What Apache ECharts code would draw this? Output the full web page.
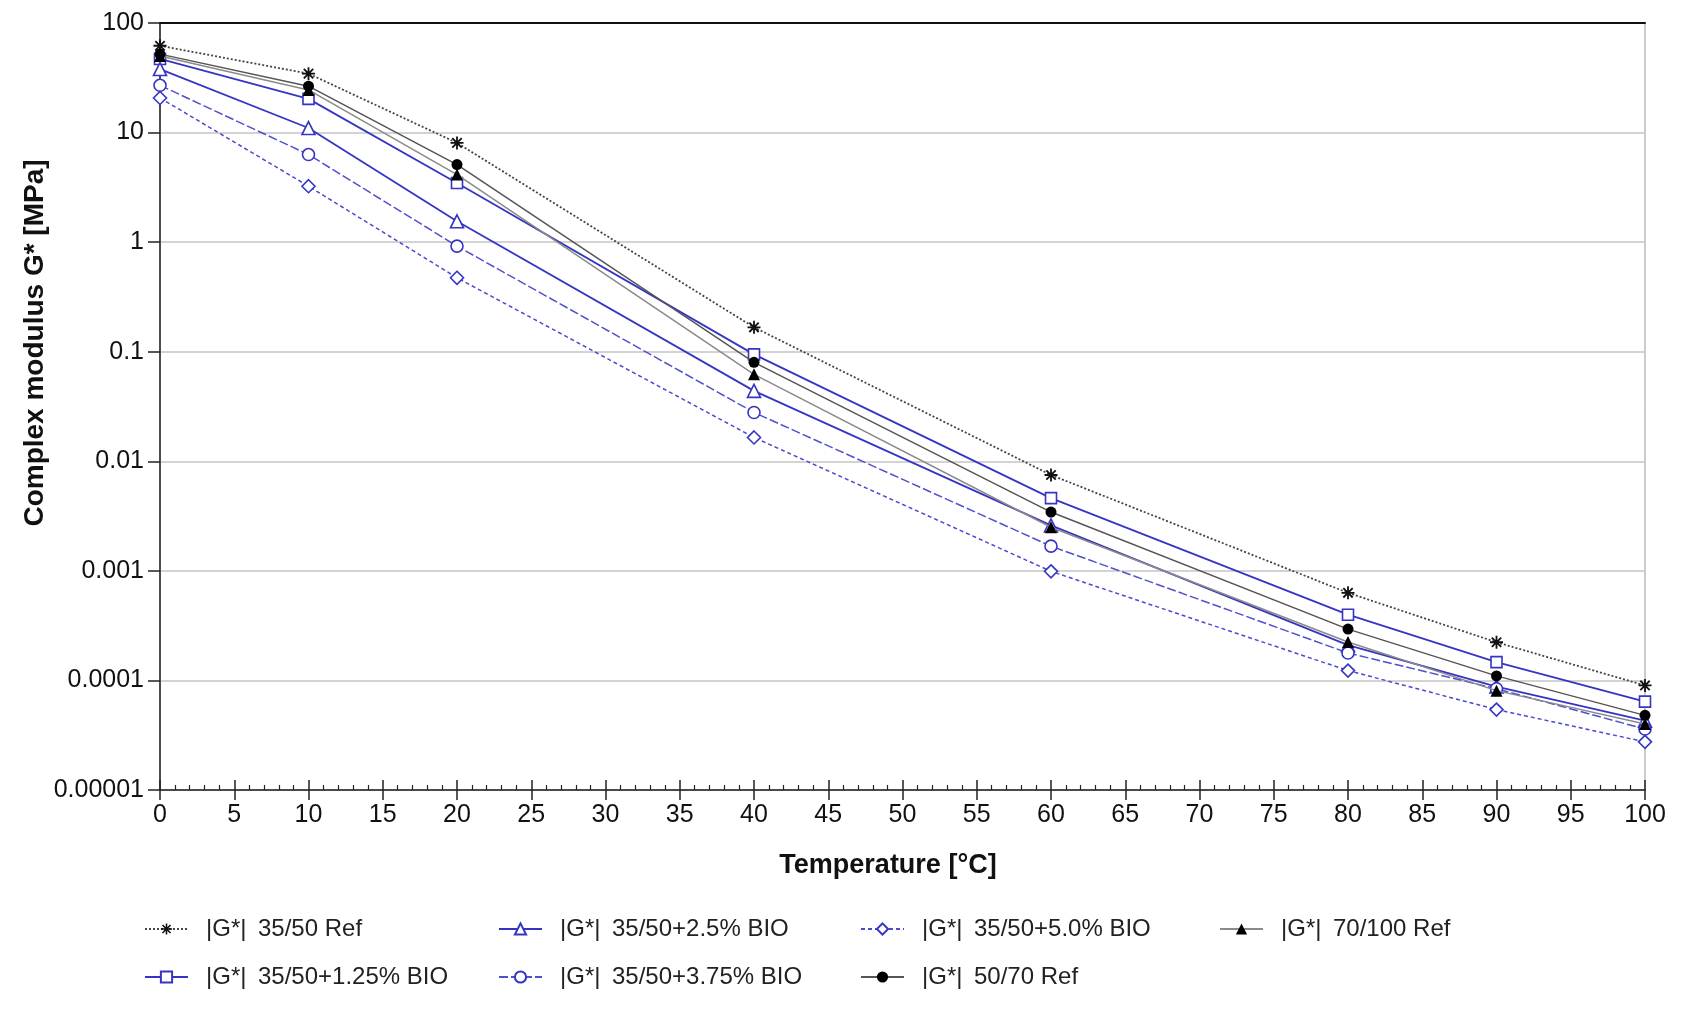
<!DOCTYPE html>
<html>
<head>
<meta charset="utf-8">
<script src="https://cdn.jsdelivr.net/npm/echarts@6/dist/echarts.min.js"></script>
<style>
html,body{margin:0;padding:0;background:#fff;}
#chart{width:1681px;height:1009px;}
</style>
</head>
<body>
<div id="chart"></div>
<script>
// ---- data ----
var temperatures = [0, 10, 20, 40, 60, 80, 90, 100];
var ref3550   = [62, 34.5, 8.05, 0.167, 0.0075, 0.00063, 0.000223, 0.00009];
var bio125    = [47, 20.3, 3.47, 0.0946, 0.00461, 0.000398, 0.000147, 0.000064];
var bio25     = [38, 11, 1.55, 0.0439, 0.0026, 0.00021, 0.000088, 0.000043];
var bio375    = [27, 6.3, 0.92, 0.0279, 0.00168, 0.000178, 0.000084, 0.000036];
var bio50     = [20.7, 3.24, 0.473, 0.0165, 0.00099, 0.000123, 0.0000542, 0.0000275];
var ref5070   = [52, 26.5, 5.1, 0.08, 0.00344, 0.000294, 0.00011, 0.000048];
var ref70100  = [50, 24.5, 4.14, 0.0622, 0.0025, 0.000224, 0.0000807, 0.00004];
var seriesNames = ['35/50 Ref', '35/50+1.25% BIO', '35/50+2.5% BIO', '35/50+3.75% BIO', '35/50+5.0% BIO', '50/70 Ref', '70/100 Ref'];
var yTickLabels = ['0.00001', '0.0001', '0.001', '0.01', '0.1', '1', '10', '100'];
var xTitle = 'Temperature [°C]';
var yTitle = 'Complex modulus G* [MPa]';
var legendPrefix = '|G*|';

function pairs(vals){ return temperatures.map(function(t,i){ return [t, vals[i]]; }); }

var BLUE = '#3535c4';
var FONT = 'Liberation Sans';
var asterisk = 'path://M0,4.3L10,4.3L10,5.7L0,5.7Z M4.3,0L5.7,0L5.7,10L4.3,10Z M0.9,1.9L1.9,0.9L9.1,8.1L8.1,9.1Z M8.1,0.9L9.1,1.9L1.9,9.1L0.9,8.1Z';

function mk(name, vals, opts){
  return {
    name: name, type: 'line', data: pairs(vals), xAxisIndex: 0, yAxisIndex: 0,
    symbol: opts.symbol, symbolSize: opts.size || 11, showSymbol: true,
    color: opts.color,
    lineStyle: { color: opts.lineColor, width: opts.width || 1.6, type: opts.type || 'solid' },
    itemStyle: { color: opts.fill, borderColor: opts.border, borderWidth: opts.bw || 0 },
    emphasis: { disabled: true }, animation: false, z: opts.z || 2
  };
}

var series = [
  mk(seriesNames[0], ref3550, {symbol: asterisk, size: 13, color: '#222', lineColor: '#444', type: [2,2], fill: '#111', border: '#111', bw: 0, width: 1.8, z: 3}),
  mk(seriesNames[1], bio125, {symbol: 'rect', size: 11, color: BLUE, lineColor: BLUE, fill: '#fff', border: BLUE, bw: 1.6, width: 1.8}),
  mk(seriesNames[2], bio25, {symbol: 'triangle', size: 13, color: BLUE, lineColor: BLUE, fill: '#fff', border: BLUE, bw: 1.6, width: 1.8}),
  mk(seriesNames[3], bio375, {symbol: 'circle', size: 12, color: BLUE, lineColor: '#5050cc', type: [9,3], fill: '#fff', border: BLUE, bw: 1.6, width: 1.5}),
  mk(seriesNames[4], bio50, {symbol: 'diamond', size: 13, color: BLUE, lineColor: '#4a4ad0', type: [4,3], fill: '#fff', border: BLUE, bw: 1.6, width: 1.5}),
  mk(seriesNames[5], ref5070, {symbol: 'circle', size: 11, color: '#111', lineColor: '#555', fill: '#000', border: '#000', bw: 0, width: 1.5, z: 3}),
  mk(seriesNames[6], ref70100, {symbol: 'triangle', size: 12, color: '#111', lineColor: '#8a8a8a', fill: '#000', border: '#000', bw: 0, width: 1.5, z: 3})
];

var LFS = 24;
var rich = {
  s: { width: 13, fontFamily: FONT, fontSize: LFS, color: '#222' },
  a: { width: 52, fontFamily: FONT, fontSize: LFS, color: '#222' },
  b: { fontFamily: FONT, fontSize: LFS, color: '#222' }
};
function legendCol(left, names){
  return {
    data: names, left: left, top: 910, orient: 'vertical', itemGap: 20,
    itemWidth: 43, itemHeight: 14, selectedMode: false,
    formatter: function(n){ return '{s|}{a|' + legendPrefix + '}{b|' + n + '}'; },
    textStyle: { rich: rich, fontFamily: FONT, fontSize: LFS, lineHeight: 28 }
  };
}

var axisLabelStyle = { fontFamily: FONT, fontSize: 25, color: '#111' };

var option = {
  backgroundColor: '#fff',
  animation: false,
  grid: { left: 160, right: 36, top: 23, bottom: 219, show: true, borderColor: '#9a9a9a', borderWidth: 1 },
  graphic: [
    { type: 'text', x: 888, y: 866, silent: true,
      style: { text: xTitle, fontFamily: FONT, fontSize: 27, fontWeight: 'bold', fill: '#111', textAlign: 'center', textVerticalAlign: 'middle' } },
    { type: 'text', x: 35, y: 343, rotation: Math.PI / 2, silent: true,
      style: { text: yTitle, fontFamily: FONT, fontSize: 28, fontWeight: 'bold', fill: '#111', textAlign: 'center', textVerticalAlign: 'middle' } }
  ],
  xAxis: [
    { type: 'value', min: 0, max: 100, interval: 5, position: 'bottom',
      axisLine: { show: true, onZero: false, lineStyle: { color: '#222', width: 1.5 } },
      axisTick: { show: true, inside: false, length: 10, lineStyle: { color: '#222', width: 1.5 } },
      axisLabel: Object.assign({ margin: 13 }, axisLabelStyle),
      splitLine: { show: false } },
    { type: 'value', min: 0, max: 100, interval: 5, position: 'bottom',
      axisLine: { show: false, onZero: false },
      axisTick: { show: true, inside: true, length: 10, lineStyle: { color: '#222', width: 1.5 } },
      minorTick: { show: true, splitNumber: 5, length: 5, lineStyle: { color: '#222', width: 1.2 } },
      axisLabel: { show: false }, splitLine: { show: false } },
    { type: 'value', min: 0, max: 100, position: 'top',
      axisLine: { show: true, onZero: false, lineStyle: { color: '#111', width: 2 } },
      axisTick: { show: false }, axisLabel: { show: false }, splitLine: { show: false } }
  ],
  yAxis: [
    { type: 'log', logBase: 10, min: 0.00001, max: 100, interval: 1, position: 'left',
      axisLine: { show: true, onZero: false, lineStyle: { color: '#222', width: 1.5 } },
      axisTick: { show: true, inside: false, length: 12, lineStyle: { color: '#222', width: 1.5 } },
      axisLabel: Object.assign({ margin: 16, formatter: function(v){
        var k = Math.round(Math.log(v) / Math.LN10) + 5; return yTickLabels[k] || ''; } }, axisLabelStyle),
      splitLine: { show: true, lineStyle: { color: '#c4c4c4', width: 1.5 } } }
  ],
  legend: [
    legendCol(139, [seriesNames[0], seriesNames[1]]),
    legendCol(493, [seriesNames[2], seriesNames[3]]),
    legendCol(855, [seriesNames[4], seriesNames[5]]),
    legendCol(1214, [seriesNames[6]])
  ],
  series: series
};

var chart = echarts.init(document.getElementById('chart'), null, { renderer: 'canvas' });
chart.setOption(option);
</script>
</body>
</html>
